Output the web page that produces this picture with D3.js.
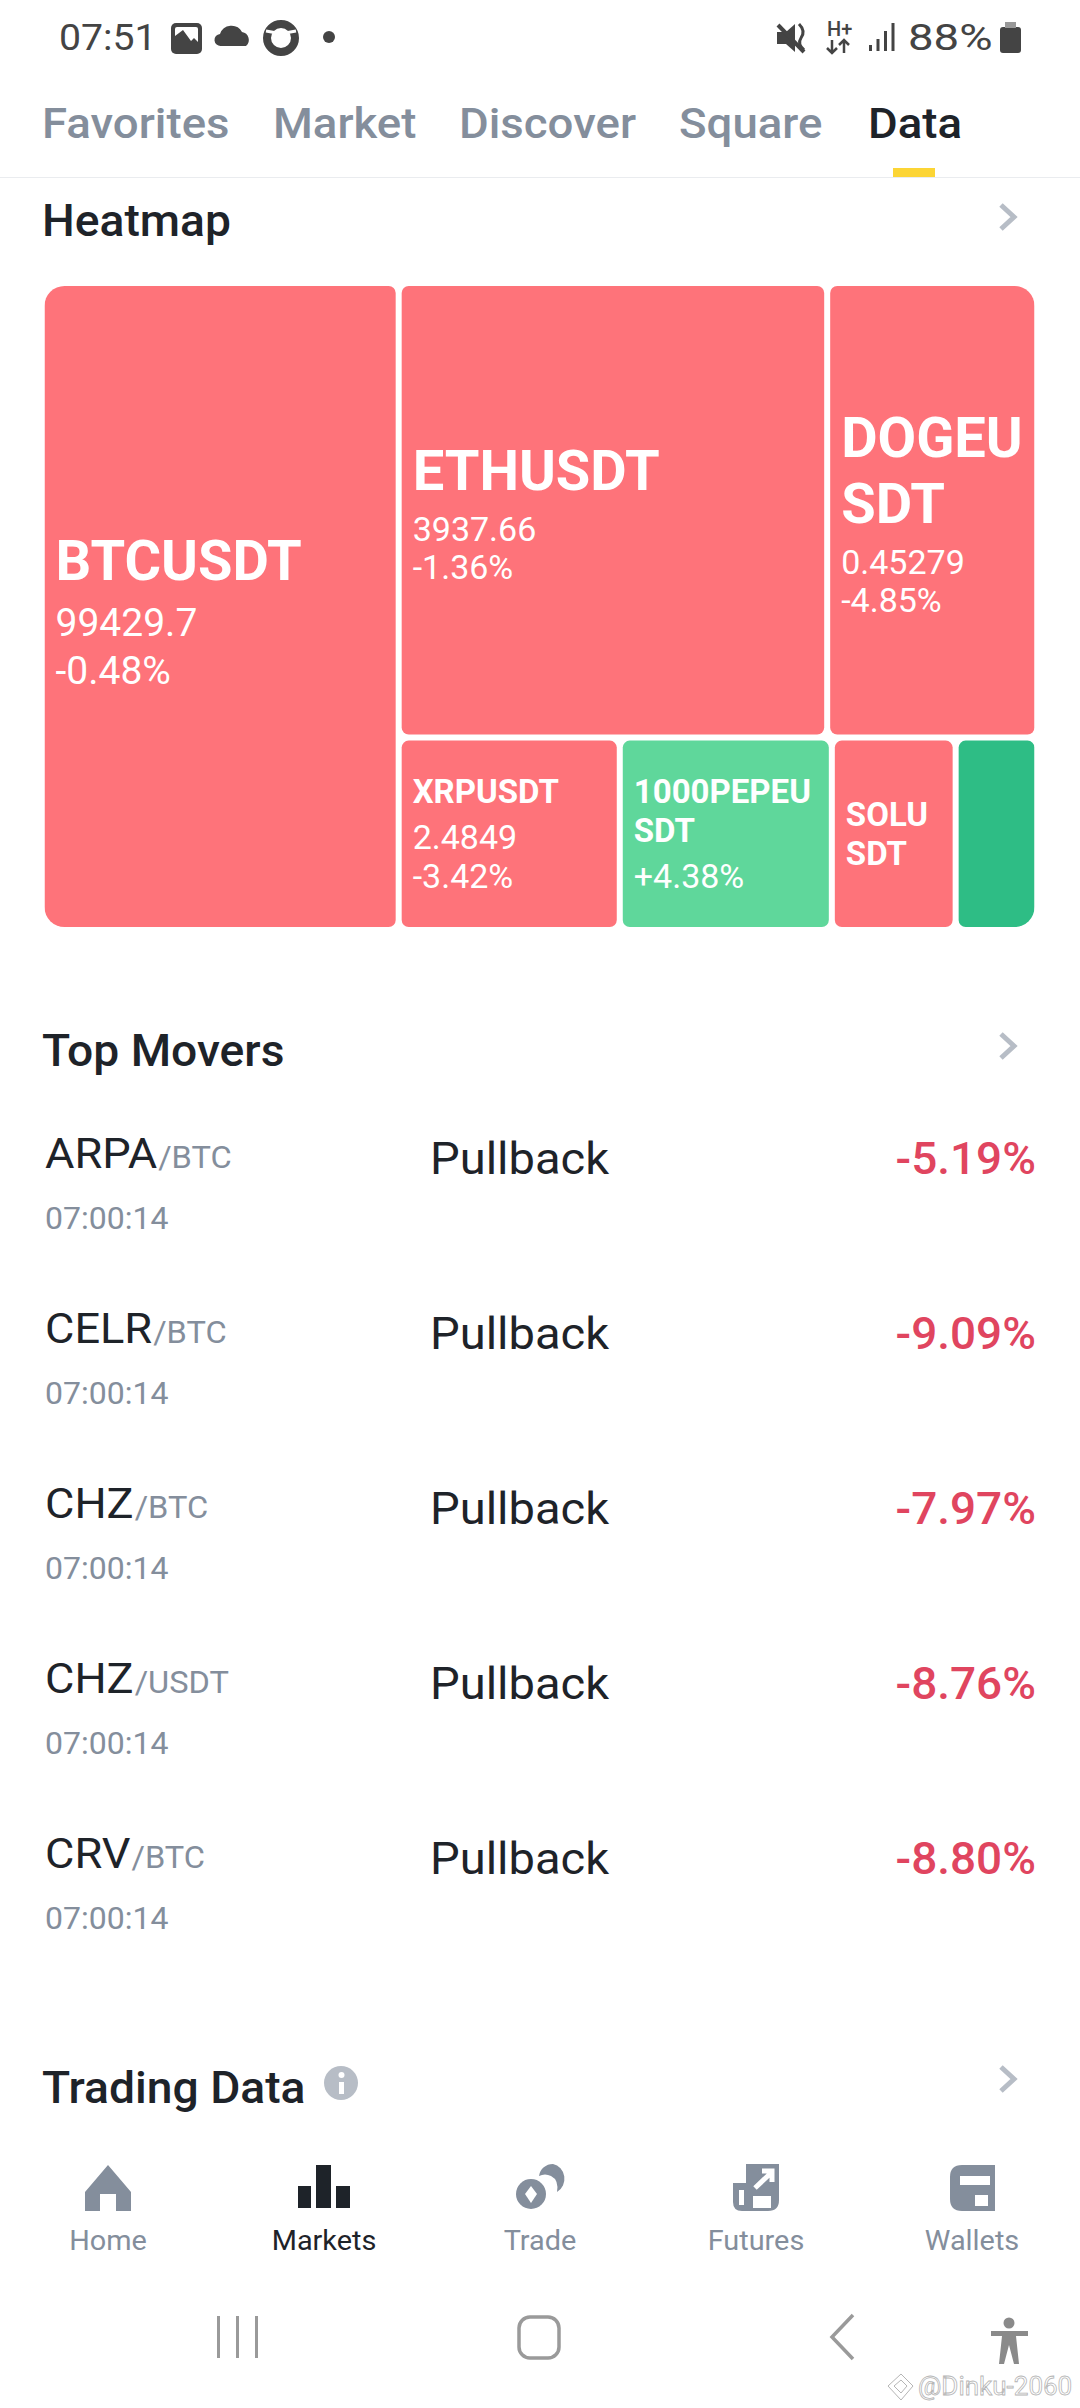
<!DOCTYPE html>
<html>
<head>
<meta charset="utf-8">
<script src="https://cdnjs.cloudflare.com/ajax/libs/d3/7.8.5/d3.min.js"></script>
<style>
  html, body { margin: 0; background: #fff; }
  svg { display: block; }
  text { font-family: Roboto, sans-serif; }
</style>
</head>
<body>
<svg id="chart" width="1080" height="2408"></svg>
<script>
// heatmap, values are tile areas
const symbols = ["BTCUSDT", "ETHUSDT", "DOGEUSDT", "XRPUSDT", "1000PEPEUSDT", "SOLUSDT", "OTHER"];
const volumes = [226, 190.5, 93.5, 41.6, 39.9, 23.3, 15.4];
const prices = ["99429.7", "3937.66", "0.45279", "2.4849", "", "", ""];
const changes = [-0.48, -1.36, -4.85, -3.42, 4.38, null, null];
const trend = ["down", "down", "down", "down", "up", "down", "strong"];
const nameLines = [["BTCUSDT"], ["ETHUSDT"], ["DOGEU", "SDT"], ["XRPUSDT"], ["1000PEPEU", "SDT"], ["SOLU", "SDT"], []];

// top movers
const moverBase = ["ARPA", "CELR", "CHZ", "CHZ", "CRV"];
const moverQuote = ["/BTC", "/BTC", "/BTC", "/USDT", "/BTC"];
const moverTime = ["07:00:14", "07:00:14", "07:00:14", "07:00:14", "07:00:14"];
const moverType = ["Pullback", "Pullback", "Pullback", "Pullback", "Pullback"];
const moverChange = [-5.19, -9.09, -7.97, -8.76, -8.80];

const tabs = ["Favorites", "Market", "Discover", "Square", "Data"];
const navLabels = ["Home", "Markets", "Trade", "Futures", "Wallets"];

const DARK = "#1e2329", GREY = "#848e9c", CHEV = "#b7bdc6";
const svg = d3.select("#chart");

function label(parent, x, y, str, size, fill, weight, anchor) {
  return parent.append("text").attr("x", x).attr("y", y).text(str)
    .attr("font-size", size).attr("fill", fill)
    .attr("font-weight", weight || 400)
    .attr("text-anchor", anchor || "start");
}

// the app font runs wider than Roboto
function stretch(sel, k) {
  sel.attr("textLength", sel.node().getComputedTextLength() * k).attr("lengthAdjust", "spacingAndGlyphs");
  return sel;
}

function chevron(y) {
  svg.append("path").attr("d", `M${1001} ${y - 12}L${1014} ${y}L${1001} ${y + 12}`)
    .attr("fill", "none").attr("stroke", CHEV).attr("stroke-width", 5);
}

// status bar
const STATUS = "#444";
stretch(label(svg, 59, 50, "07:51", 37, STATUS), 1.06);
stretch(label(svg, 908, 50, "88%", 37, STATUS), 1.23);
svg.append("rect").attr("x", 171).attr("y", 23).attr("width", 31).attr("height", 31).attr("rx", 5).attr("fill", STATUS);
svg.append("rect").attr("x", 175).attr("y", 27).attr("width", 23).attr("height", 23).attr("rx", 2).attr("fill", "#fff");
svg.append("path").attr("d", "M175 50V36L183 30L191 41L194 38L198 42V50Z").attr("fill", STATUS);
svg.append("path").attr("d", "M221 46a6 6 0 0 1 -1 -12a12 12 0 0 1 22 -2a8 8 0 0 1 4 14Z").attr("fill", STATUS);
svg.append("circle").attr("cx", 281).attr("cy", 38).attr("r", 14).attr("fill", "none").attr("stroke", STATUS).attr("stroke-width", 8);
svg.append("path").attr("d", "M266 31L277 33M296 31L285 33").attr("stroke", "#fff").attr("stroke-width", 3);
svg.append("circle").attr("cx", 329).attr("cy", 37).attr("r", 6).attr("fill", STATUS);
// mute icon
svg.append("path").attr("d", "M777 32H786L795 24V52L786 44H777Z").attr("fill", STATUS);
svg.append("path").attr("d", "M778 25L804 52").attr("stroke", STATUS).attr("stroke-width", 4);
svg.append("path").attr("d", "M799 24Q806 31 801 38Q797 44 804 50").attr("fill", "none").attr("stroke", STATUS).attr("stroke-width", 3);
label(svg, 827, 36, "H+", 20, STATUS, 500);
svg.append("path").attr("d", "M832 40V53M827 48L832 53L837 48M844 53V40M839 45L844 40L849 45").attr("fill", "none").attr("stroke", STATUS).attr("stroke-width", 2.5);
// signal bars
const sigH = [6, 12, 20, 28];
svg.selectAll("rect.sig").data(sigH).join("rect").attr("class", "sig")
  .attr("x", (d, i) => 869 + i * 7.5).attr("y", d => 51 - d).attr("width", 3).attr("height", d => d).attr("fill", STATUS);
// battery
svg.append("rect").attr("x", 1000).attr("y", 27).attr("width", 21).attr("height", 26).attr("rx", 3).attr("fill", STATUS);
svg.append("rect").attr("x", 1005).attr("y", 22).attr("width", 11).attr("height", 6).attr("fill", "#999");

// tabs
const tabX = [42, 273, 459, 679, 868];
tabs.forEach((t, i) => stretch(label(svg, tabX[i], 138, t, 43, t === "Data" ? DARK : GREY, 500), 1.06));
svg.append("rect").attr("x", 0).attr("y", 177).attr("width", 1080).attr("height", 1).attr("fill", "#eaecef");
svg.append("rect").attr("x", 893).attr("y", 168).attr("width", 42).attr("height", 9).attr("fill", "#fcd535");

stretch(label(svg, 42, 236, "Heatmap", 44, DARK, 500), 1.05);
chevron(217);

// treemap: BTC on the left, two rows on the right
const tileData = symbols.map((s, i) => ({ name: s, value: volumes[i], i }));
const treeRoot = d3.hierarchy({
  children: [
    tileData[0],
    { children: [
      { children: tileData.slice(1, 3) },
      { children: tileData.slice(3) }
    ] }
  ]
}).sum(d => d.value || 0);

d3.treemap()
  .size([990, 641])
  .paddingInner(6)
  .tile((node, x0, y0, x1, y1) => {
    (node.depth === 1 ? d3.treemapSlice : d3.treemapDice)(node, x0, y0, x1, y1);
  })(treeRoot);

const colorScale = d3.scaleOrdinal().domain(["down", "up", "strong"]).range(["#fe737a", "#5fd79b", "#2ebd85"]);

// text tiers by tile area
const tier = d3.scaleThreshold().domain([70000, 210000]).range([2, 1, 0]);
const nameSize = [56, 56, 33], nameLead = [66, 66, 39], blockShift = [5.5, 4.5, 0];
const valSize = [39, 34, 34], valGap = [56, 51, 46], valLead = [48, 38, 39];
const pctText = v => (v > 0 ? "+" : "") + v.toFixed(2) + "%";

svg.append("defs").append("clipPath").attr("id", "heatClip")
  .append("rect").attr("width", 990).attr("height", 641).attr("rx", 20);

const heat = svg.append("g").attr("transform", "translate(44.5,286)");
const tilesLayer = heat.append("g").attr("clip-path", "url(#heatClip)");

tilesLayer.selectAll("rect").data(treeRoot.leaves()).join("rect")
  .attr("x", d => d.x0).attr("y", d => d.y0)
  .attr("width", d => d.x1 - d.x0).attr("height", d => d.y1 - d.y0)
  .attr("rx", 7)
  .attr("fill", d => colorScale(trend[d.data.i]));

treeRoot.leaves().forEach(leaf => {
  const i = leaf.data.i;
  const lines = nameLines[i];
  if (!lines.length) return;
  const w = leaf.x1 - leaf.x0, h = leaf.y1 - leaf.y0;
  const t = tier(w * h);
  const vals = [prices[i], changes[i] === null ? "" : pctText(changes[i])].filter(v => v !== "");
  // baseline to baseline height of the whole block
  let span = (lines.length - 1) * nameLead[t];
  if (vals.length) span += valGap[t] + (vals.length - 1) * valLead[t];
  const capH = nameSize[t] * 0.711;
  const tx = leaf.x0 + 11;
  let y = leaf.y0 + (h - (capH + span)) / 2 + blockShift[t] + capH;
  lines.forEach((ln, k) => {
    label(heat, tx, y + k * nameLead[t], ln, nameSize[t], "#fff", 700);
  });
  y += (lines.length - 1) * nameLead[t] + valGap[t];
  vals.forEach((v, k) => {
    label(heat, tx, y + k * valLead[t], v, valSize[t], "#fff");
  });
});

// top movers
stretch(label(svg, 42, 1066, "Top Movers", 44, DARK, 500), 1.05);
chevron(1046);
const rowY = d3.scaleLinear().domain([0, 1]).range([1168, 1343]);
const movers = svg.append("g");
moverBase.forEach((b, i) => {
  const y = rowY(i);
  const base = label(movers, 45, y, b, 43, DARK, 400);
  const bw = base.node().getComputedTextLength() * 1.05;
  stretch(base, 1.05);
  stretch(label(movers, 45 + bw + 1, y, moverQuote[i], 31, GREY), 1.05);
  label(movers, 45, y + 61, moverTime[i], 32, GREY);
  stretch(label(movers, 430, y + 6, moverType[i], 44, DARK, 400), 1.07);
  stretch(label(movers, 1036, y + 6, moverChange[i].toFixed(2) + "%", 45, "#e0455f", 500, "end"), 1.02);
});

// trading data header
stretch(label(svg, 42, 2103, "Trading Data", 44, DARK, 500), 1.05);
svg.append("circle").attr("cx", 341).attr("cy", 2083).attr("r", 17).attr("fill", CHEV);
svg.append("rect").attr("x", 339).attr("y", 2082).attr("width", 5).attr("height", 12).attr("fill", "#fff");
svg.append("circle").attr("cx", 341.5).attr("cy", 2075).attr("r", 3).attr("fill", "#fff");
chevron(2079);

// bottom nav
const navX = d3.scalePoint().domain(navLabels).range([108, 972]);
navLabels.forEach(n => stretch(label(svg, navX(n), 2250, n, 28, n === "Markets" ? DARK : GREY, 400, "middle"), 1.03));
// home
svg.append("path").attr("fill-rule", "evenodd")
  .attr("d", "M108 2165L131 2192V2211H85V2192Z M100 2211H116V2194H100Z").attr("fill", GREY);
// markets bars
svg.append("g").attr("fill", DARK).selectAll("rect").data([[298, 2186, 13], [316, 2165, 15], [336, 2186, 14]]).join("rect")
  .attr("x", d => d[0]).attr("y", d => d[1]).attr("width", d => d[2]).attr("height", d => 2208 - d[1]);
// trade
svg.append("circle").attr("cx", 531).attr("cy", 2194).attr("r", 15).attr("fill", GREY);
svg.append("path").attr("d", "M531 2186L537 2194L531 2203L525 2194Z").attr("fill", "#fff");
svg.append("path").attr("d", "M539 2176A14 14 0 0 1 553 2164A14 15 0 0 1 557 2192Q559 2180 551 2176Q545 2173 539 2176Z").attr("fill", GREY);
// futures
svg.append("path").attr("fill-rule", "evenodd")
  .attr("d", "M746 2164H779V2200Q779 2211 768 2211H742Q733 2211 733 2202V2183H746Z M739 2190V2205H744V2190Z M753 2196V2208H771V2196Z")
  .attr("fill", GREY);
svg.append("path").attr("d", "M755 2188L772 2172M762 2171H772V2182").attr("fill", "none").attr("stroke", "#fff").attr("stroke-width", 5);
// wallets
svg.append("path").attr("fill-rule", "evenodd")
  .attr("d", "M962 2165H995V2211H962Q950 2211 950 2199V2177Q950 2165 962 2165Z M960 2176V2185H990V2176Z M975 2195V2206H988V2195Z")
  .attr("fill", GREY);

// system nav
const SYS = "#9a9a9a";
svg.append("g").selectAll("rect").data([217, 236, 255]).join("rect")
  .attr("x", d => d).attr("y", 2316).attr("width", 3).attr("height", 42).attr("fill", SYS);
svg.append("rect").attr("x", 519).attr("y", 2317).attr("width", 40).attr("height", 41).attr("rx", 11)
  .attr("fill", "none").attr("stroke", SYS).attr("stroke-width", 3.5);
svg.append("path").attr("d", "M853 2315L832 2337L853 2359").attr("fill", "none").attr("stroke", SYS).attr("stroke-width", 3.5);
svg.append("circle").attr("cx", 1009).attr("cy", 2323).attr("r", 5.5).attr("fill", "#8a8a8a");
svg.append("path").attr("d", "M991 2331H1028V2336H1016L1019 2364H1014L1009 2345L1004 2364H999L1002 2336H991Z").attr("fill", "#8a8a8a");

// watermark
label(svg, 918, 2395, "@Dinku-2060", 26, "#fff", 400)
  .attr("stroke", "#b5b5b5").attr("stroke-width", 0.8);
svg.append("path").attr("d", "M888 2386L901 2374L913 2386L901 2400ZM894 2386L901 2380L907 2386L901 2393Z")
  .attr("fill", "none").attr("stroke", "#b5b5b5").attr("stroke-width", 1);
</script>
</body>
</html>
